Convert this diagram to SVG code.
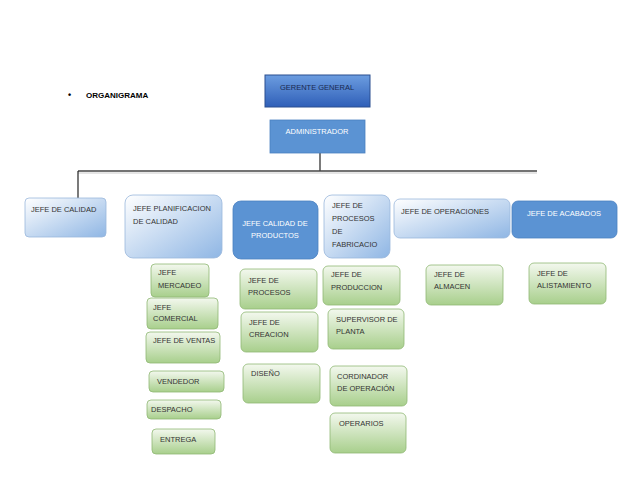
<svg xmlns="http://www.w3.org/2000/svg" width="638" height="493" viewBox="0 0 638 493">
<defs>
<linearGradient id="gG" x1="0" y1="0" x2="0" y2="1"><stop offset="0" stop-color="#f3f8ee"/><stop offset="1" stop-color="#a8cf8c"/></linearGradient>
<linearGradient id="gB" x1="0" y1="0" x2="1" y2="1"><stop offset="0" stop-color="#ffffff"/><stop offset="1" stop-color="#8fb6e4"/></linearGradient>
<linearGradient id="gT" x1="0" y1="0" x2="0" y2="1"><stop offset="0" stop-color="#6c9de0"/><stop offset="1" stop-color="#2f5fb8"/></linearGradient>
</defs>
<style>
text{font-family:"Liberation Sans",Arial,sans-serif;font-size:7.5px;fill:#333}
.g{fill:url(#gG);stroke:#8fb873;stroke-width:0.8}
.b{fill:url(#gB);stroke:#9ab8dc;stroke-width:0.8}
.d{fill:#5b93d3;stroke:#4a80c0;stroke-width:0.8}
.w{fill:#fff}
.c{stroke:#222;stroke-width:1.2;fill:none}
</style>
<rect width="638" height="493" fill="#fff"/>
<text x="68" y="98" style="font-size:9px;font-weight:bold;fill:#000">•</text>
<text x="86" y="98" style="font-size:8px;font-weight:bold;fill:#000">ORGANIGRAMA</text>
<g id="connectors">
<line class="c" x1="320" y1="153" x2="320" y2="171"/>
<line x1="78" y1="171" x2="537" y2="171" stroke="#444" stroke-width="1.5"/>
<line x1="78" y1="173" x2="537" y2="173" stroke="#ccc" stroke-width="1"/>
<line class="c" x1="78" y1="171" x2="78" y2="198"/>
</g>
<g id="gerente"><rect x="265" y="75" width="105" height="32" fill="url(#gT)" stroke="#2a4f90"/><text x="317" y="90" text-anchor="middle" fill="#1a2a50" style="fill:#1a2a50">GERENTE GENERAL</text></g>
<g id="admin"><rect class="d" x="270" y="120" width="95" height="33"/><text class="w" x="317" y="134" text-anchor="middle">ADMINISTRADOR</text></g>
<g id="calidad"><rect class="b" x="25" y="198" width="81" height="39" rx="4"/><text x="31" y="212">JEFE DE CALIDAD</text></g>
<g id="planificacion"><rect class="b" x="125" y="195" width="97" height="63" rx="8"/><text x="133" y="211">JEFE PLANIFICACION</text><text x="133" y="224">DE CALIDAD</text></g>
<g id="calprod"><rect class="d" x="233" y="201" width="85" height="58" rx="8"/><text class="w" x="275" y="226" text-anchor="middle">JEFE CALIDAD DE</text><text class="w" x="275" y="238" text-anchor="middle">PRODUCTOS</text></g>
<g id="procesos"><rect class="b" x="324" y="195" width="66" height="63" rx="8"/><text x="332" y="208">JEFE DE</text><text x="332" y="221">PROCESOS</text><text x="332" y="234">DE</text><text x="332" y="247">FABRICACIO</text></g>
<g id="operaciones"><rect class="b" x="394" y="199" width="116" height="39" rx="6"/><text x="401" y="214">JEFE DE OPERACIONES</text></g>
<g id="acabados"><rect class="d" x="512" y="201" width="105" height="37" rx="6"/><text class="w" x="564" y="216" text-anchor="middle">JEFE DE ACABADOS</text></g>
<g id="mercadeo"><rect class="g" x="151" y="264" width="58" height="33" rx="4"/><text x="158" y="275">JEFE</text><text x="158" y="288">MERCADEO</text></g>
<g id="comercial"><rect class="g" x="147" y="298" width="71" height="31" rx="4"/><text x="153" y="310">JEFE</text><text x="153" y="321">COMERCIAL</text></g>
<g id="ventas"><rect class="g" x="146" y="332" width="74" height="31" rx="4"/><text x="153" y="343">JEFE DE VENTAS</text></g>
<g id="vendedor"><rect class="g" x="149" y="371" width="75" height="21" rx="4"/><text x="157" y="384">VENDEDOR</text></g>
<g id="despacho"><rect class="g" x="147" y="400" width="74" height="19" rx="4"/><text x="151" y="412">DESPACHO</text></g>
<g id="entrega"><rect class="g" x="152" y="429" width="63" height="25" rx="4"/><text x="160" y="442">ENTREGA</text></g>
<g id="jprocesos"><rect class="g" x="240" y="269" width="77" height="40" rx="5"/><text x="248" y="283">JEFE DE</text><text x="248" y="295">PROCESOS</text></g>
<g id="creacion"><rect class="g" x="241" y="312" width="77" height="40" rx="5"/><text x="249" y="325">JEFE DE</text><text x="249" y="337">CREACION</text></g>
<g id="diseno"><rect class="g" x="243" y="364" width="77" height="39" rx="5"/><text x="251" y="376">DISEÑO</text></g>
<g id="produccion"><rect class="g" x="323" y="266" width="77" height="39" rx="5"/><text x="331" y="277">JEFE DE</text><text x="331" y="290">PRODUCCION</text></g>
<g id="supervisor"><rect class="g" x="328" y="309" width="76" height="40" rx="5"/><text x="336" y="322">SUPERVISOR DE</text><text x="336" y="334">PLANTA</text></g>
<g id="cordinador"><rect class="g" x="330" y="366" width="77" height="40" rx="5"/><text x="337" y="379">CORDINADOR</text><text x="337" y="391">DE OPERACIÓN</text></g>
<g id="operarios"><rect class="g" x="330" y="413" width="76" height="40" rx="5"/><text x="339" y="426">OPERARIOS</text></g>
<g id="almacen"><rect class="g" x="426" y="265" width="77" height="40" rx="5"/><text x="434" y="277">JEFE DE</text><text x="434" y="289">ALMACEN</text></g>
<g id="alistamiento"><rect class="g" x="529" y="263" width="77" height="41" rx="5"/><text x="537" y="276">JEFE DE</text><text x="537" y="288">ALISTAMIENTO</text></g>
</svg>
